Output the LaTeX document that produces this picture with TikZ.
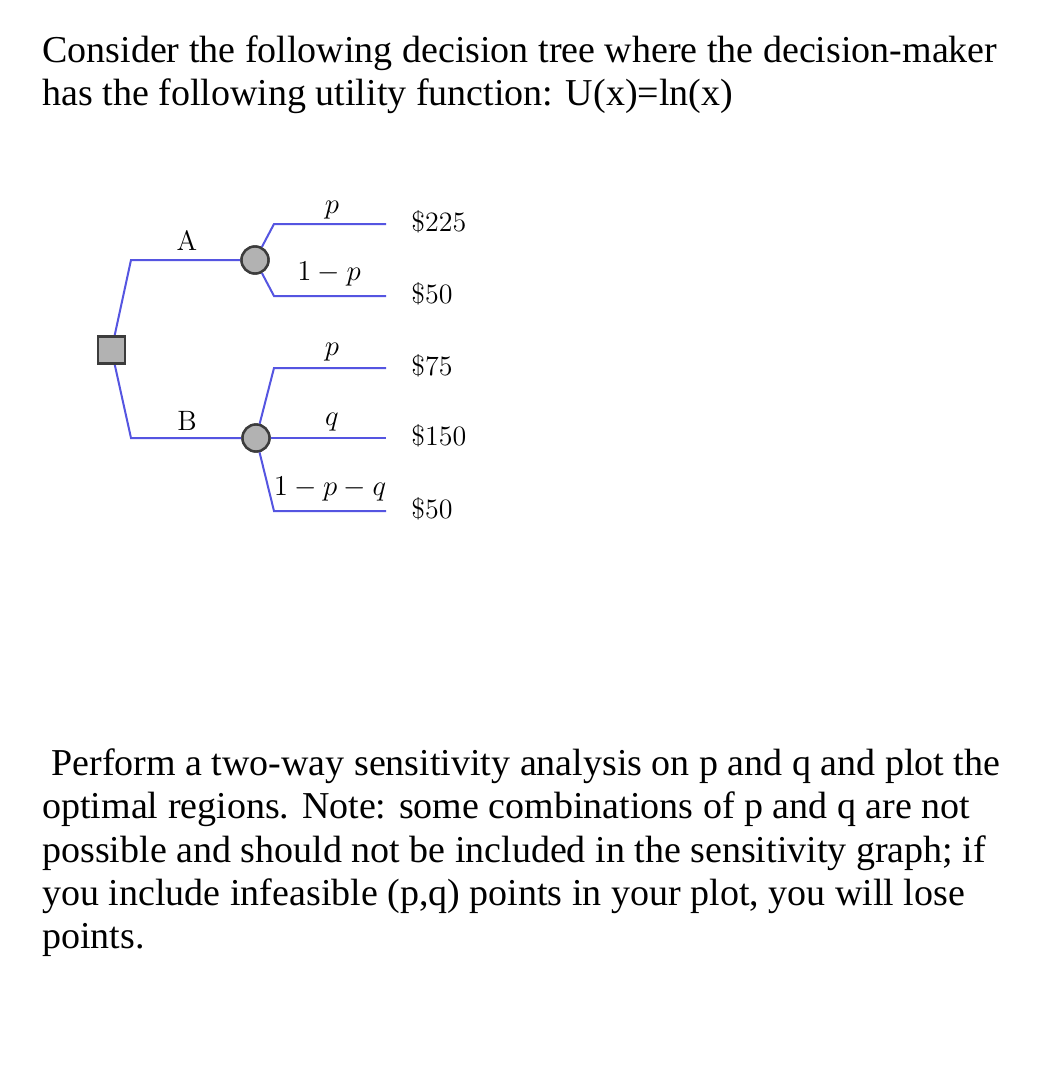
\documentclass[tikz,border=0pt]{standalone}
\usepackage{fontspec}
\newfontfamily\bodyfont{Liberation Serif}
\definecolor{branchblue}{RGB}{85,85,225}
\definecolor{nodegray}{RGB}{178,178,178}
\definecolor{nodeedge}{RGB}{60,60,60}
\tikzset{
  branch/.style={draw=branchblue, line width=1pt},
  chance/.style={circle, draw=nodeedge, fill=nodegray, line width=1.2pt, minimum size=13.5pt, inner sep=0pt},
  decision/.style={rectangle, draw=nodeedge, fill=nodegray, line width=1.2pt, minimum size=13.5pt, inner sep=0pt},
  para/.style={anchor=base west, inner sep=0pt, font=\bodyfont\fontsize{19}{22}\selectfont},
  lbl/.style={anchor=base, inner sep=0pt, font=\fontsize{14}{16}\selectfont},
  val/.style={anchor=base west, inner sep=0pt, font=\fontsize{14}{16}\selectfont}
}
\begin{document}
\begin{tikzpicture}[x=0.5pt, y=-0.5pt]
\useasboundingbox[fill=white] (0,0) rectangle (1060,1092);
% text
\node[para] (t1) at (42,62) {Consider the following decision tree where the decision-maker};
\node[para] (t2) at (42,105) {has the following utility function: U(x)=ln(x)};
\node[para] (t3) at (51,775) {Perform a two-way sensitivity analysis on p and q and plot the};
\node[para] (t4) at (42,818) {optimal regions. Note: some combinations of p and q are not};
\node[para] (t5) at (42,862) {possible and should not be included in the sensitivity graph; if};
\node[para] (t6) at (42,905) {you include infeasible (p,q) points in your plot, you will lose};
\node[para] (t7) at (42,948) {points.};
% tree node positions
\node[decision] (S) at (111.5,350) {};
\node[chance] (CA) at (255,260) {};
\node[chance] (CB) at (256,438) {};
\coordinate (ka) at (131,260);
\coordinate (kb) at (131,438);
\coordinate (a1) at (274,224); \coordinate (e1) at (386,224);
\coordinate (a2) at (274,296); \coordinate (e2) at (386,296);
\coordinate (b1) at (274,368); \coordinate (e3) at (386,368);
\coordinate (e4) at (386,438);
\coordinate (b3) at (274,511); \coordinate (e5) at (386,511);
% branches
\draw[branch] (S) -- (ka) -- (CA);
\draw[branch] (S) -- (kb) -- (CB);
\draw[branch] (CA) -- (a1) -- (e1);
\draw[branch] (CA) -- (a2) -- (e2);
\draw[branch] (CB) -- (b1) -- (e3);
\draw[branch] (CB) -- (e4);
\draw[branch] (CB) -- (b3) -- (e5);
% nodes drawn again on top of the branch ends
\node[decision] at (S) {};
\node[chance] at (CA) {};
\node[chance] at (CB) {};
% labels
\node[lbl] (lA) at (187,250) {A};
\node[lbl] (lB) at (187,430) {B};
\node[lbl] (l1) at (332,213) {$p$};
\node[lbl] (l2) at (329,280) {$1-p$};
\node[lbl] (l3) at (332,355) {$p$};
\node[lbl] (l4) at (332,425) {$q$};
\node[lbl] (l5) at (330,495) {$1-p-q$};
% values
\node[val] (v1) at (411,231) {\$225};
\node[val] (v2) at (411,303) {\$50};
\node[val] (v3) at (411,375) {\$75};
\node[val] (v4) at (411,445) {\$150};
\node[val] (v5) at (411,518) {\$50};
\end{tikzpicture}
\end{document}
